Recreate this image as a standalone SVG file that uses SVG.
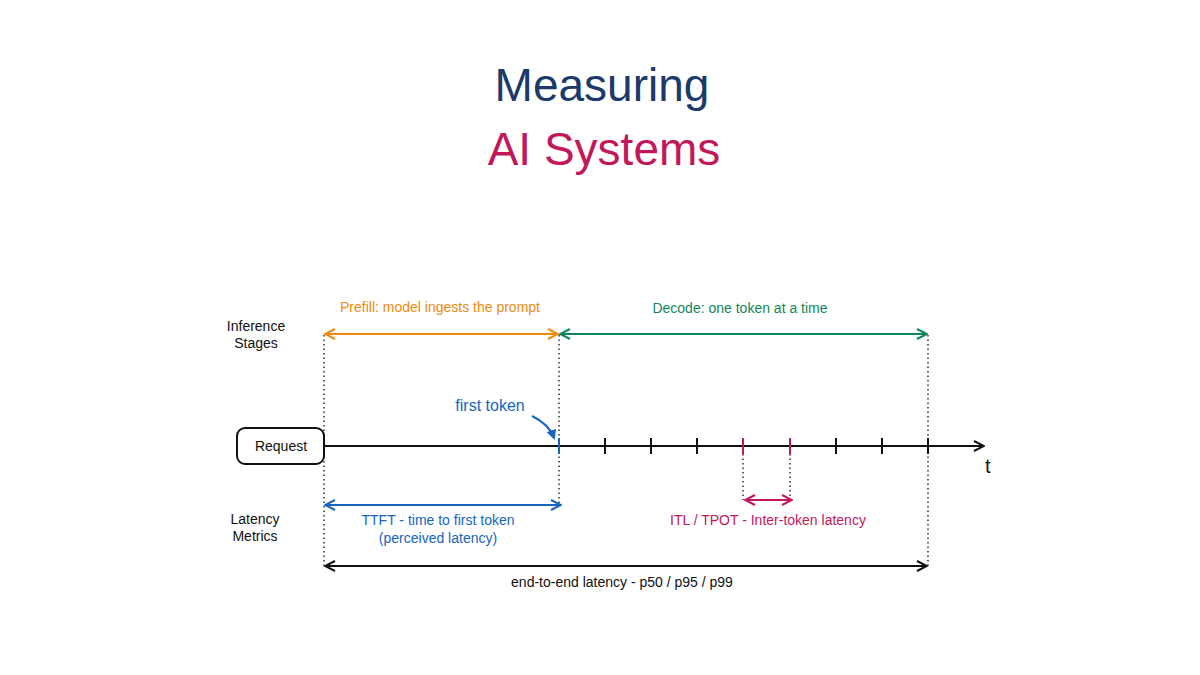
<svg xmlns="http://www.w3.org/2000/svg" width="1200" height="675" viewBox="0 0 1200 675">
<style>
text{font-family:"Liberation Sans",Arial,sans-serif}
.lbl{font-size:14px;fill:#111}
.dot{stroke:#111;stroke-width:1.3;stroke-dasharray:1.5 3;fill:none}
.ar{stroke-width:2;fill:none}
.tk{stroke:#111;stroke-width:2}
</style>
<defs>
<marker id="mk" viewBox="0 0 12 12" refX="11" refY="6" markerWidth="12" markerHeight="12" markerUnits="userSpaceOnUse" orient="auto-start-reverse"><path d="M1 1 L11 6 L1 11" fill="none" stroke="context-stroke" stroke-width="2"/></marker>
<marker id="mo" viewBox="0 0 12 12" refX="11" refY="6" markerWidth="12" markerHeight="12" markerUnits="userSpaceOnUse" orient="auto-start-reverse"><path d="M1 1 L11 6 L1 11" fill="none" stroke="#ef8a0c" stroke-width="2"/></marker>
<marker id="mg" viewBox="0 0 12 12" refX="11" refY="6" markerWidth="12" markerHeight="12" markerUnits="userSpaceOnUse" orient="auto-start-reverse"><path d="M1 1 L11 6 L1 11" fill="none" stroke="#10875a" stroke-width="2"/></marker>
<marker id="mb" viewBox="0 0 12 12" refX="11" refY="6" markerWidth="12" markerHeight="12" markerUnits="userSpaceOnUse" orient="auto-start-reverse"><path d="M1 1 L11 6 L1 11" fill="none" stroke="#1565c0" stroke-width="2"/></marker>
<marker id="mr" viewBox="0 0 12 12" refX="11" refY="6" markerWidth="12" markerHeight="12" markerUnits="userSpaceOnUse" orient="auto-start-reverse"><path d="M1 1 L11 6 L1 11" fill="none" stroke="#c2185b" stroke-width="2"/></marker>
<marker id="mx" viewBox="0 0 12 12" refX="11" refY="6" markerWidth="12" markerHeight="12" markerUnits="userSpaceOnUse" orient="auto-start-reverse"><path d="M1 1 L11 6 L1 11" fill="none" stroke="#111" stroke-width="2"/></marker>
<marker id="mbs" viewBox="0 0 10 10" refX="8" refY="5" markerWidth="10" markerHeight="10" markerUnits="userSpaceOnUse" orient="auto"><path d="M0 0 L10 5 L0 10 Z" fill="#1565c0"/></marker>
</defs>
<rect width="1200" height="675" fill="#fff"/>
<g id="title">
<text x="602" y="101" text-anchor="middle" font-size="46" fill="#1b3a6b">Measuring</text>
<text x="604" y="165" text-anchor="middle" font-size="46" fill="#c2185b">AI Systems</text>
</g>
<g id="side-labels">
<text class="lbl" x="256" y="331" text-anchor="middle">Inference</text>
<text class="lbl" x="256" y="348" text-anchor="middle">Stages</text>
<text class="lbl" x="255" y="524" text-anchor="middle">Latency</text>
<text class="lbl" x="255" y="541" text-anchor="middle">Metrics</text>
</g>
<g id="request"><rect x="237" y="428" width="87" height="36" rx="8" fill="#fff" stroke="#111" stroke-width="2"/><text class="lbl" x="281" y="451" text-anchor="middle">Request</text></g>
<g id="connectors">
<line class="dot" x1="324" y1="335" x2="324" y2="568"/>
<line class="dot" x1="559" y1="335" x2="559" y2="505"/>
<line class="dot" x1="928" y1="335" x2="928" y2="568"/>
<line class="dot" x1="743" y1="454" x2="743" y2="500"/>
<line class="dot" x1="790" y1="454" x2="790" y2="500"/>
<line x1="324" y1="446" x2="984" y2="446" stroke="#111" stroke-width="2" marker-end="url(#mx)"/>
<line x1="559" y1="438" x2="559" y2="454" stroke="#1565c0" stroke-width="2"/>
<line class="tk" x1="605" y1="438" x2="605" y2="454"/>
<line class="tk" x1="651" y1="438" x2="651" y2="454"/>
<line class="tk" x1="697" y1="438" x2="697" y2="454"/>
<line x1="743" y1="438" x2="743" y2="454" stroke="#c2185b" stroke-width="2"/>
<line x1="790" y1="438" x2="790" y2="454" stroke="#c2185b" stroke-width="2"/>
<line class="tk" x1="836" y1="438" x2="836" y2="454"/>
<line class="tk" x1="882" y1="438" x2="882" y2="454"/>
<line class="tk" x1="928" y1="438" x2="928" y2="454"/>
<line class="ar" stroke="#ef8a0c" x1="325" y1="334" x2="558" y2="334" marker-start="url(#mo)" marker-end="url(#mo)"/>
<line class="ar" stroke="#10875a" x1="560" y1="334" x2="927" y2="334" marker-start="url(#mg)" marker-end="url(#mg)"/>
<line class="ar" stroke="#1565c0" x1="325" y1="505" x2="561" y2="505" marker-start="url(#mb)" marker-end="url(#mb)"/>
<line class="ar" stroke="#c2185b" x1="745" y1="500" x2="792" y2="500" marker-start="url(#mr)" marker-end="url(#mr)"/>
<line class="ar" stroke="#111" x1="325" y1="566" x2="927" y2="566" marker-start="url(#mx)" marker-end="url(#mx)"/>
<path d="M532 416 Q549 424 554 438" fill="none" stroke="#1565c0" stroke-width="2" marker-end="url(#mbs)"/>
</g>
<g id="texts">
<text x="440" y="312" text-anchor="middle" font-size="14" fill="#ef8a0c">Prefill: model ingests the prompt</text>
<text x="740" y="313" text-anchor="middle" font-size="14" fill="#10875a">Decode: one token at a time</text>
<text x="490" y="411" text-anchor="middle" font-size="16" fill="#1565c0">first token</text>
<text x="985" y="473" font-size="20" fill="#111">t</text>
<text x="438" y="525" text-anchor="middle" font-size="14" fill="#1565c0">TTFT - time to first token</text>
<text x="438" y="543" text-anchor="middle" font-size="14" fill="#1565c0">(perceived latency)</text>
<text x="768" y="525" text-anchor="middle" font-size="14" fill="#c2185b">ITL / TPOT - Inter-token latency</text>
<text x="622" y="587" text-anchor="middle" font-size="14" fill="#111">end-to-end latency - p50 / p95 / p99</text>
</g>
</svg>
